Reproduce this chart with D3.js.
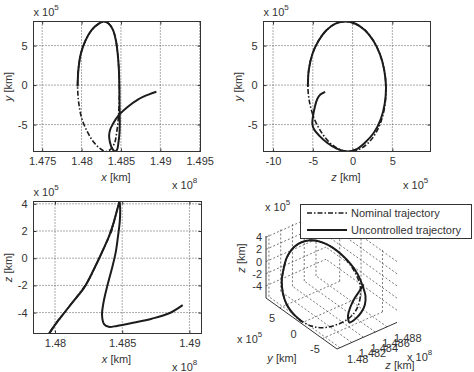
<!DOCTYPE html>
<html>
<head>
<meta charset="utf-8">
<script src="https://cdn.jsdelivr.net/npm/d3@7"></script>
<style>
  body { margin: 0; background: #fff; }
  text { font-family: "Liberation Sans", Arial, sans-serif; fill: #333; }
</style>
</head>
<body>
<svg id="chart" width="474" height="372"></svg>
<script>
// Trajectory samples: x in 1e8 km, y and z in 1e5 km
const nomX = [1.48285, 1.48346, 1.48400, 1.48436, 1.48459, 1.48474, 1.48480, 1.48477, 1.48466, 1.48446, 1.48420, 1.48368,
  1.48310, 1.48247, 1.48161, 1.48078, 1.48005, 1.47965, 1.47950, 1.47960, 1.47990, 1.48050, 1.48127, 1.48218];
const nomY = [8.05, 7.77, 6.95, 5.64, 3.94, 1.95, -0.18, -2.31, -4.30, -6.00, -7.31, -8.13,
  -8.41, -8.13, -7.31, -6.00, -4.30, -2.31, -0.18, 1.95, 3.94, 5.64, 6.95, 7.77];
const nomZ = [-0.90, 0.36, 1.56, 2.60, 3.43, 3.97, 4.20, 4.10, 3.68, 2.96, 1.99, 0.85,
  -0.40, -1.66, -2.86, -3.90, -4.80, -5.38, -5.62, -5.50, -5.05, -4.26, -3.29, -2.15];

const uncX = [1.47950, 1.47960, 1.47990, 1.48050, 1.48127, 1.48218, 1.48285, 1.48346, 1.48400, 1.48436, 1.48459, 1.48474,
  1.48480, 1.48482, 1.48485, 1.48482, 1.48468, 1.48452, 1.48425, 1.48390, 1.48362, 1.48350, 1.48365, 1.48400,
  1.48460, 1.48580, 1.48720, 1.48850, 1.48950];
const uncY = [-0.18, 1.95, 3.94, 5.64, 6.95, 7.77, 8.05, 7.77, 6.95, 5.64, 3.94, 1.95,
  -0.18, -2.31, -4.30, -6.00, -7.30, -8.15, -8.40, -8.05, -7.30, -6.40, -5.60, -4.90,
  -3.95, -2.80, -1.80, -1.20, -0.85];
const uncZ = [-5.62, -5.50, -5.05, -4.26, -3.29, -2.15, -0.90, 0.36, 1.56, 2.60, 3.43, 3.97,
  4.20, 4.05, 3.55, 2.70, 1.55, 0.45, -0.70, -2.00, -3.20, -4.20, -4.85, -5.05,
  -4.98, -4.75, -4.45, -4.05, -3.45];

// Tick values
const xTicksXY = [1.475, 1.48, 1.485, 1.49, 1.495];
const yTicks = [-5, 0, 5];
const zTicksZY = [-10, -5, 0, 5];
const xTicksXZ = [1.48, 1.485, 1.49];
const zTicksXZ = [-4, -2, 0, 2, 4];
const x3dTicks = [1.48, 1.482, 1.484, 1.486, 1.488];
const y3dTicks = [5, 0, -5];
const z3dTicks = [4, 2, 0, -2, -4];
const legendLabels = ['Nominal trajectory', 'Uncontrolled trajectory'];

const nominal = nomX.map((x, i) => ({ x: x, y: nomY[i], z: nomZ[i] }));
const uncontrolled = uncX.map((x, i) => ({ x: x, y: uncY[i], z: uncZ[i] }));

const svg = d3.select('#chart');
const lineColor = '#1c1c1c';
const dashDot = '5,2,1.5,2';

// "x 10^n" style label
function expLabel(x, y, exp) {
  const t = svg.append('text').attr('x', x).attr('y', y).attr('font-size', 11);
  t.append('tspan').text('x 10');
  t.append('tspan').attr('dy', -6).attr('font-size', 8).text(exp);
}

// "v [km]" axis title, italic variable
function axisTitle(x, y, v, rotate) {
  const t = svg.append('text').attr('font-size', 11).attr('text-anchor', 'middle')
    .attr('transform', 'translate(' + x + ',' + y + ')' + (rotate ? ' rotate(-90)' : ''));
  t.append('tspan').attr('font-style', 'italic').text(v);
  t.append('tspan').text(' [km]');
}

function panel2d(o) {
  const xs = d3.scaleLinear().domain(o.xDom).range([o.left, o.right]);
  const ys = d3.scaleLinear().domain(o.yDom).range([o.bottom, o.top]);
  const g = svg.append('g');

  g.append('clipPath').attr('id', 'clip' + o.id)
    .append('rect')
    .attr('x', o.left).attr('y', o.top)
    .attr('width', o.right - o.left).attr('height', o.bottom - o.top);

  // dotted grid
  g.selectAll('line.gx').data(o.xTicks).enter().append('line')
    .attr('x1', d => xs(d)).attr('x2', d => xs(d))
    .attr('y1', o.top).attr('y2', o.bottom)
    .attr('stroke', '#444').attr('stroke-width', 0.9).attr('stroke-dasharray', '1,2');
  g.selectAll('line.gy').data(o.yTicks).enter().append('line')
    .attr('y1', d => ys(d)).attr('y2', d => ys(d))
    .attr('x1', o.left).attr('x2', o.right)
    .attr('stroke', '#444').attr('stroke-width', 0.9).attr('stroke-dasharray', '1,2');

  // axes with inward ticks
  const fmt = d => String(d);
  const styleAxis = a => {
    a.select('.domain').remove();
    a.attr('color', '#333').attr('font-size', 11).attr('font-family', '"Liberation Sans", Arial, sans-serif');
  };
  g.append('g').attr('transform', 'translate(0,' + o.bottom + ')')
    .call(d3.axisBottom(xs).tickValues(o.xTicks).tickSizeInner(-3).tickSizeOuter(0).tickPadding(6).tickFormat(fmt))
    .call(styleAxis);
  g.append('g').attr('transform', 'translate(0,' + o.top + ')')
    .call(d3.axisTop(xs).tickValues(o.xTicks).tickSizeInner(-3).tickSizeOuter(0).tickFormat(''))
    .call(styleAxis);
  g.append('g').attr('transform', 'translate(' + o.left + ',0)')
    .call(d3.axisLeft(ys).tickValues(o.yTicks).tickSizeInner(-3).tickSizeOuter(0).tickPadding(6).tickFormat(fmt))
    .call(styleAxis);
  g.append('g').attr('transform', 'translate(' + o.right + ',0)')
    .call(d3.axisRight(ys).tickValues(o.yTicks).tickSizeInner(-3).tickSizeOuter(0).tickFormat(''))
    .call(styleAxis);

  const line = d3.line()
    .x(d => xs(d[o.xKey])).y(d => ys(d[o.yKey]))
    .curve(d3.curveCatmullRom.alpha(0.5));
  const closedLine = d3.line()
    .x(d => xs(d[o.xKey])).y(d => ys(d[o.yKey]))
    .curve(d3.curveCatmullRomClosed.alpha(0.5));

  const plot = g.append('g').attr('clip-path', 'url(#clip' + o.id + ')');
  plot.append('path').datum(nominal)
    .attr('fill', 'none').attr('stroke', lineColor).attr('stroke-width', 1.6)
    .attr('stroke-dasharray', dashDot).attr('d', closedLine);
  plot.append('path').datum(uncontrolled)
    .attr('fill', 'none').attr('stroke', lineColor).attr('stroke-width', 2)
    .attr('d', line);

  g.append('rect')
    .attr('x', o.left).attr('y', o.top)
    .attr('width', o.right - o.left).attr('height', o.bottom - o.top)
    .attr('fill', 'none').attr('stroke', '#333').attr('stroke-width', 1);

  axisTitle((o.left + o.right) / 2 - 1, o.bottom + 29.5, o.xTitle, false);
  axisTitle(o.left - 21.5, (o.top + o.bottom) / 2, o.yTitle, true);
  expLabel(o.left, o.top - 6, o.yExp);
  expLabel(o.expX, o.bottom + 37, o.xExp);
}

panel2d({ id: 1, left: 33.5, right: 200.5, top: 21.5, bottom: 151.5,
  xDom: [1.4739, 1.4951], yDom: [-8.41, 8.05], xKey: 'x', yKey: 'y',
  xTicks: xTicksXY, yTicks: yTicks, xTitle: 'x', yTitle: 'y', xExp: '8', yExp: '5', expX: 172 });

panel2d({ id: 2, left: 263.5, right: 430.5, top: 21.5, bottom: 151.5,
  xDom: [-11.2, 9.8], yDom: [-8.41, 8.05], xKey: 'z', yKey: 'y',
  xTicks: zTicksZY, yTicks: yTicks, xTitle: 'z', yTitle: 'y', xExp: '5', yExp: '5', expX: 403 });

panel2d({ id: 3, left: 33.5, right: 201.5, top: 201.5, bottom: 333.5,
  xDom: [1.4784, 1.4909], yDom: [-5.54, 4.17], xKey: 'x', yKey: 'z',
  xTicks: xTicksXZ, yTicks: zTicksXZ, xTitle: 'x', yTitle: 'z', xExp: '8', yExp: '5', expX: 172 });

// ---- 3D view (orthographic projection of the axis box) ----
const X3 = d3.scaleLinear().domain([1.4795, 1.4897]).range([0, 1]);
const Y3 = d3.scaleLinear().domain([-8.4, 8.2]).range([0, 1]);
const Z3 = d3.scaleLinear().domain([-6, 4.2]).range([0, 1]);
const origin3 = [337, 349];
const ex = [60, -26.6], ey = [-71, -51], ez = [0, -62];
function proj(x, y, z) {
  const a = X3(x), b = Y3(y), c = Z3(z);
  return [origin3[0] + a * ex[0] + b * ey[0] + c * ez[0],
    origin3[1] + a * ex[1] + b * ey[1] + c * ez[1]];
}
const [xmin, xmax] = X3.domain(), [ymin, ymax] = Y3.domain(), [zmin, zmax] = Z3.domain();

const gridSegs = [];
x3dTicks.forEach(t => {
  gridSegs.push([[t, ymin, zmin], [t, ymax, zmin]]);
  gridSegs.push([[t, ymax, zmin], [t, ymax, zmax]]);
});
y3dTicks.forEach(t => {
  gridSegs.push([[xmin, t, zmin], [xmax, t, zmin]]);
  gridSegs.push([[xmax, t, zmin], [xmax, t, zmax]]);
});
z3dTicks.forEach(t => {
  gridSegs.push([[xmax, ymin, t], [xmax, ymax, t]]);
  gridSegs.push([[xmin, ymax, t], [xmax, ymax, t]]);
});
const g3 = svg.append('g');
g3.selectAll('line.grid3').data(gridSegs).enter().append('line')
  .attr('x1', d => proj(...d[0])[0]).attr('y1', d => proj(...d[0])[1])
  .attr('x2', d => proj(...d[1])[0]).attr('y2', d => proj(...d[1])[1])
  .attr('stroke', '#555').attr('stroke-width', 0.8).attr('stroke-dasharray', '2,2');

const axisSegs = [
  [[xmin, ymax, zmin], [xmin, ymin, zmin]],
  [[xmin, ymin, zmin], [xmax, ymin, zmin]],
  [[xmin, ymax, zmin], [xmin, ymax, zmax]]
];
g3.selectAll('line.axis3').data(axisSegs).enter().append('line')
  .attr('x1', d => proj(...d[0])[0]).attr('y1', d => proj(...d[0])[1])
  .attr('x2', d => proj(...d[1])[0]).attr('y2', d => proj(...d[1])[1])
  .attr('stroke', '#333').attr('stroke-width', 1);

g3.selectAll('text.xt3').data(x3dTicks).enter().append('text')
  .attr('font-size', 11)
  .attr('x', d => proj(d, ymin, zmin)[0] + 7).attr('y', d => proj(d, ymin, zmin)[1] + 15)
  .text(d => String(d));
g3.selectAll('text.yt3').data(y3dTicks).enter().append('text')
  .attr('font-size', 11).attr('text-anchor', 'middle')
  .attr('x', d => proj(xmin, d, zmin)[0] - 7.5).attr('y', d => proj(xmin, d, zmin)[1] + 14.5)
  .text(d => String(d));
g3.selectAll('text.zt3').data(z3dTicks).enter().append('text')
  .attr('font-size', 11).attr('text-anchor', 'end')
  .attr('x', d => proj(xmin, ymax, d)[0] - 4).attr('y', d => proj(xmin, ymax, d)[1] + 4)
  .text(d => String(d));

const line3 = d3.line().x(d => proj(d.x, d.y, d.z)[0]).y(d => proj(d.x, d.y, d.z)[1])
  .curve(d3.curveCatmullRom.alpha(0.5));
const closed3 = d3.line().x(d => proj(d.x, d.y, d.z)[0]).y(d => proj(d.x, d.y, d.z)[1])
  .curve(d3.curveCatmullRomClosed.alpha(0.5));
g3.append('path').datum(nominal)
  .attr('fill', 'none').attr('stroke', lineColor).attr('stroke-width', 1.6)
  .attr('stroke-dasharray', dashDot).attr('d', closed3);
g3.append('path').datum(uncontrolled)
  .attr('fill', 'none').attr('stroke', lineColor).attr('stroke-width', 2)
  .attr('d', line3);

expLabel(265, 211, '5');
expLabel(237, 343, '5');
expLabel(407, 361, '8');
axisTitle(245, 258, 'z', true);
axisTitle(282, 362, 'y', false);
axisTitle(400, 369, 'z', false);

// legend
const lg = svg.append('g');
lg.append('rect').attr('x', 300.5).attr('y', 204.5).attr('width', 171).attr('height', 34)
  .attr('fill', '#fff').attr('stroke', '#333').attr('stroke-width', 1);
lg.selectAll('line.leg').data(legendLabels).enter().append('line')
  .attr('x1', 307).attr('x2', 347)
  .attr('y1', (d, i) => 213 + i * 17).attr('y2', (d, i) => 213 + i * 17)
  .attr('stroke', lineColor)
  .attr('stroke-width', (d, i) => i === 0 ? 1.6 : 2)
  .attr('stroke-dasharray', (d, i) => i === 0 ? dashDot : null);
lg.selectAll('text.leg').data(legendLabels).enter().append('text')
  .attr('font-size', 11).attr('x', 351)
  .attr('y', (d, i) => 217 + i * 17)
  .text(d => d);
</script>
</body>
</html>
